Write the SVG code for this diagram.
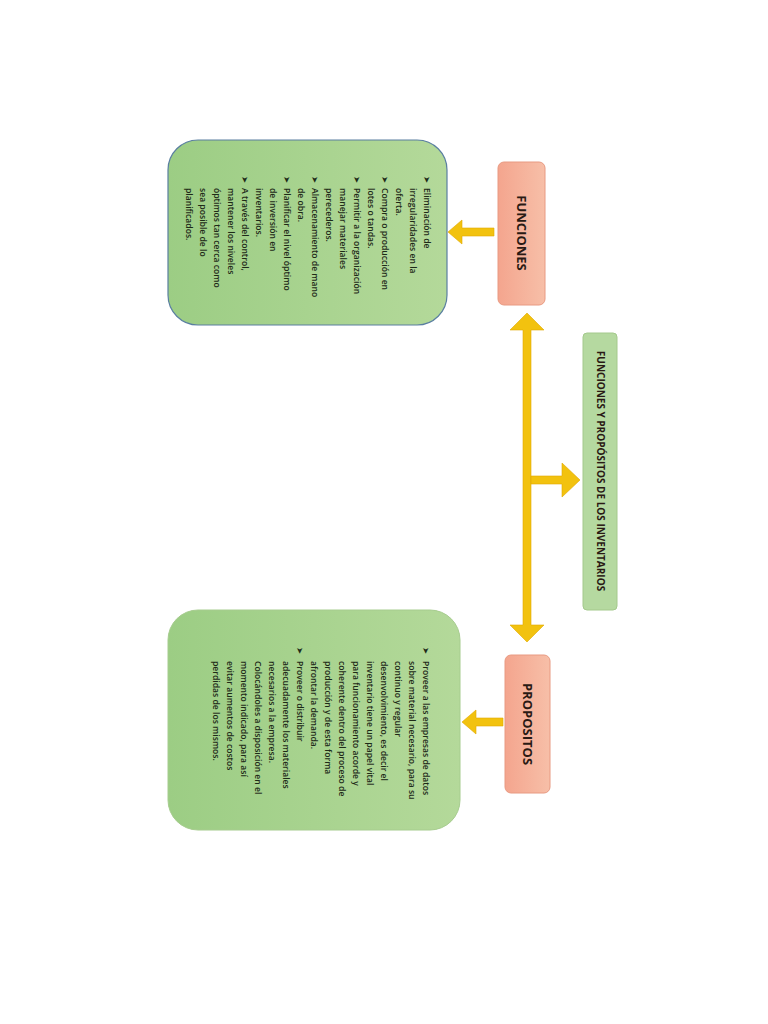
<svg xmlns="http://www.w3.org/2000/svg" width="768" height="1024" viewBox="0 0 768 1024">
<defs>
<linearGradient id="g1" x1="0" y1="0" x2="1" y2="0"><stop offset="0" stop-color="#9ccd84"/><stop offset="1" stop-color="#b4d99a"/></linearGradient>
<linearGradient id="g2" x1="0" y1="0" x2="1" y2="0"><stop offset="0" stop-color="#f4a58e"/><stop offset="1" stop-color="#f7bfa8"/></linearGradient>
<style>
.t{font-family:"Open Sans","DejaVu Sans",sans-serif;font-size:8.6px;font-weight:600;fill:#1e2a18}
.h{font-family:"Open Sans","DejaVu Sans",sans-serif;font-weight:700;fill:#2a1a14}
.ar{fill:#f2c20f;stroke:#e0a800;stroke-width:0.6}
</style>
</defs>
<rect width="768" height="1024" fill="#fff"/>
<g id="connectors">
<polygon class="ar" points="523,330 523,625 510,625 527,642 544,625 531,625 531,330 544,330 527,313 510,330"/>
<polygon class="ar" points="531,476 562,476 562,463 580,480 562,497 562,484 531,484"/>
<polygon class="ar" points="494,228 462,228 462,220 448,232 462,244 462,236 494,236"/>
<polygon class="ar" points="503,718 476,718 476,710 462,722 476,734 476,726 503,726"/>
</g>
<g id="title">
<rect x="583" y="333" width="34" height="277" rx="4" fill="#b5d9a0" stroke="#a4c98c"/>
<text class="h" font-size="10" text-anchor="middle" transform="translate(597,471) rotate(90)">FUNCIONES Y PROPÓSITOS DE LOS INVENTARIOS</text>
</g>
<g id="funciones">
<rect x="498" y="162" width="47" height="143" rx="6" fill="url(#g2)" stroke="#e89a82"/>
<text class="h" font-size="13" text-anchor="middle" transform="translate(517,233) rotate(90)">FUNCIONES</text>
</g>
<g id="propositos">
<rect x="505" y="655" width="45" height="138" rx="6" fill="url(#g2)" stroke="#e89a82"/>
<text class="h" font-size="13" text-anchor="middle" transform="translate(523,724) rotate(90)">PROPOSITOS</text>
</g>
<g id="funciones-box">
<rect x="168" y="140" width="279" height="185" rx="30" fill="url(#g1)" stroke="#5a7fa0" stroke-width="1.2"/>
<g transform="translate(440,140) rotate(90)">
<g class="t">
<text x="36" y="16">➤</text><text x="48" y="16">Eliminación de</text>
<text x="48" y="30">irregularidades en la</text>
<text x="48" y="44">oferta.</text>
<text x="36" y="58">➤</text><text x="48" y="58">Compra o producción en</text>
<text x="48" y="72">lotes o tandas.</text>
<text x="36" y="86">➤</text><text x="48" y="86">Permitir a la organización</text>
<text x="48" y="100">manejar materiales</text>
<text x="48" y="114">perecederos.</text>
<text x="36" y="128">➤</text><text x="48" y="128">Almacenamiento de mano</text>
<text x="48" y="142">de obra.</text>
<text x="36" y="156">➤</text><text x="48" y="156">Planificar el nivel óptimo</text>
<text x="48" y="170">de inversión en</text>
<text x="48" y="184">inventarios.</text>
<text x="36" y="198">➤</text><text x="48" y="198">A través del control,</text>
<text x="48" y="212">mantener los niveles</text>
<text x="48" y="226">óptimos tan cerca como</text>
<text x="48" y="240">sea posible de lo</text>
<text x="48" y="254">planificados.</text>
</g></g>
</g>
<g id="propositos-box">
<rect x="168" y="610" width="292" height="220" rx="30" fill="url(#g1)" stroke="#a6cc8e" stroke-width="1"/>
<g transform="translate(433,610) rotate(90)">
<g class="t">
<text x="37" y="10">➤</text><text x="51" y="10">Proveer a las empresas de datos</text>
<text x="51" y="24">sobre material necesario, para su</text>
<text x="51" y="38">continuo y regular</text>
<text x="51" y="52">desenvolvimiento, es decir el</text>
<text x="51" y="66">inventario tiene un papel vital</text>
<text x="51" y="80">para funcionamiento acorde y</text>
<text x="51" y="94">coherente dentro del proceso de</text>
<text x="51" y="108">producción y de esta forma</text>
<text x="51" y="122">afrontar la demanda.</text>
<text x="37" y="136">➤</text><text x="51" y="136">Proveer o distribuir</text>
<text x="51" y="150">adecuadamente los materiales</text>
<text x="51" y="164">necesarios a la empresa.</text>
<text x="51" y="178">Colocándoles a disposición en el</text>
<text x="51" y="192">momento indicado, para así</text>
<text x="51" y="206">evitar aumentos de costos</text>
<text x="51" y="220">perdidas de los mismos.</text>
</g></g>
</g>
</svg>
